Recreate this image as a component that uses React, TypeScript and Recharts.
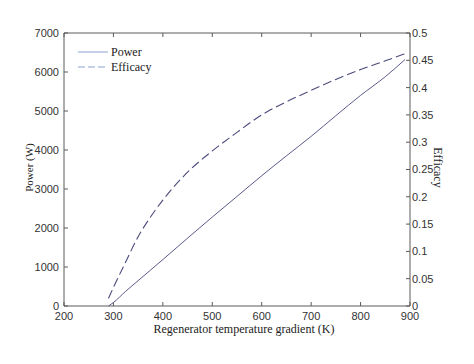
import React from 'react';
import { LineChart, Line, XAxis, YAxis, Legend } from 'recharts';

const kelvin = [290, 300, 325, 350, 375, 400, 450, 500, 550, 600, 650, 700, 750, 800, 850, 890];
const power = [0, 90, 380, 650, 920, 1190, 1740, 2280, 2810, 3340, 3850, 4350, 4880, 5400, 5880, 6320];
const efficacy = [0.014, 0.034, 0.081, 0.127, 0.163, 0.194, 0.245, 0.284, 0.318, 0.35, 0.374, 0.395, 0.415, 0.433, 0.449, 0.462];

const kTicks = [200, 300, 400, 500, 600, 700, 800, 900];
const powerTicks = [0, 1000, 2000, 3000, 4000, 5000, 6000, 7000];
const effTicks = [0, 0.05, 0.1, 0.15, 0.2, 0.25, 0.3, 0.35, 0.4, 0.45, 0.5];

const data = kelvin.map((k, i) => ({ k, power: power[i], efficacy: efficacy[i] }));

const axisColor = '#5a5a5a';
const tickFont = { fontFamily: 'Liberation Sans, Arial, sans-serif', fontSize: 11, fill: '#333' };
const serif = 'Liberation Serif, Times New Roman, serif';
const noLabel = () => <g />;

const LegendBox = () => (
  <div style={{ fontFamily: serif, fontSize: 12, color: '#222', lineHeight: '14.5px' }}>
    {[
      { name: 'Power', dash: undefined },
      { name: 'Efficacy', dash: '7 3' },
    ].map((item) => (
      <div key={item.name} style={{ display: 'flex', alignItems: 'center' }}>
        <svg width={33} height={10}>
          <line x1={0} y1={5} x2={30} y2={5} stroke="#88a2d2" strokeWidth={1} strokeDasharray={item.dash} />
        </svg>
        <span>{item.name}</span>
      </div>
    ))}
  </div>
);

export default function App() {
  return (
    <LineChart width={458} height={348} data={data} margin={{ top: 25, right: 0, left: 0, bottom: 0 }}>
      <XAxis
        xAxisId="k"
        dataKey="k"
        type="number"
        domain={[200, 900]}
        ticks={kTicks}
        height={50}
        tick={tickFont}
        tickLine={false}
        tickMargin={2}
        tickSize={4}
        axisLine={{ stroke: axisColor }}
        label={{
          content: ({ viewBox }: any) => (
            <text x={viewBox.x + viewBox.width / 2 + 7} y={viewBox.y + 27} textAnchor="middle" fontFamily={serif} fontSize={12} fill="#222">
              Regenerator temperature gradient (K)
            </text>
          ),
        }}
      />
      <XAxis xAxisId="kb" dataKey="k" type="number" domain={[200, 900]} allowDataOverflow ticks={kTicks} mirror orientation="bottom" tick={noLabel} tickSize={4} tickLine={{ stroke: axisColor }} axisLine={false} />
      <XAxis xAxisId="kt" dataKey="k" type="number" domain={[200, 900]} allowDataOverflow ticks={kTicks} mirror orientation="top" tick={noLabel} tickSize={4} tickLine={{ stroke: axisColor }} axisLine={{ stroke: axisColor }} />
      <YAxis
        yAxisId="p"
        orientation="left"
        domain={[0, 7000]}
        ticks={powerTicks}
        width={56}
        tick={tickFont}
        tickLine={false}
        tickSize={0}
        tickMargin={5}
        axisLine={{ stroke: axisColor }}
        label={{
          content: ({ viewBox }: any) => {
            const cx = viewBox.x + 21;
            const cy = viewBox.y + viewBox.height / 2 - 2;
            return (
              <text x={cx} y={cy} transform={`rotate(-90, ${cx}, ${cy})`} textAnchor="middle" dominantBaseline="central" fontFamily={serif} fontSize={11} fill="#222">
                Power (W)
              </text>
            );
          },
        }}
      />
      <YAxis yAxisId="pm" orientation="left" mirror domain={[0, 7000]} allowDataOverflow ticks={powerTicks} tick={noLabel} tickSize={4} tickLine={{ stroke: axisColor }} axisLine={false} />
      <YAxis
        yAxisId="e"
        orientation="right"
        domain={[0, 0.5]}
        ticks={effTicks}
        width={56}
        tick={tickFont}
        tickFormatter={(v: number) => String(+v.toFixed(2))}
        tickLine={false}
        tickSize={0}
        tickMargin={2}
        axisLine={{ stroke: axisColor }}
        label={{
          content: ({ viewBox }: any) => {
            const cx = viewBox.x + 28;
            const cy = viewBox.y + viewBox.height / 2 - 2;
            return (
              <text x={cx} y={cy} transform={`rotate(90, ${cx}, ${cy})`} textAnchor="middle" dominantBaseline="central" fontFamily={serif} fontSize={12} fill="#222">
                Efficacy
              </text>
            );
          },
        }}
      />
      <YAxis yAxisId="em" orientation="right" mirror domain={[0, 0.5]} allowDataOverflow ticks={effTicks} tick={noLabel} tickSize={4} tickLine={{ stroke: axisColor }} axisLine={false} />
      <Legend
        layout="vertical"
        align="center"
        verticalAlign="middle"
        wrapperStyle={{ left: 70, top: 37, width: 'auto' }}
        content={() => <LegendBox />}
      />
      <Line xAxisId="k" yAxisId="p" dataKey="power" type="monotone" stroke="#5a5a8c" strokeWidth={1} dot={false} isAnimationActive={false} />
      <Line xAxisId="k" yAxisId="e" dataKey="efficacy" type="monotone" stroke="#4a4a7c" strokeWidth={1.1} strokeDasharray="9 4" dot={false} isAnimationActive={false} />
    </LineChart>
  );
}
